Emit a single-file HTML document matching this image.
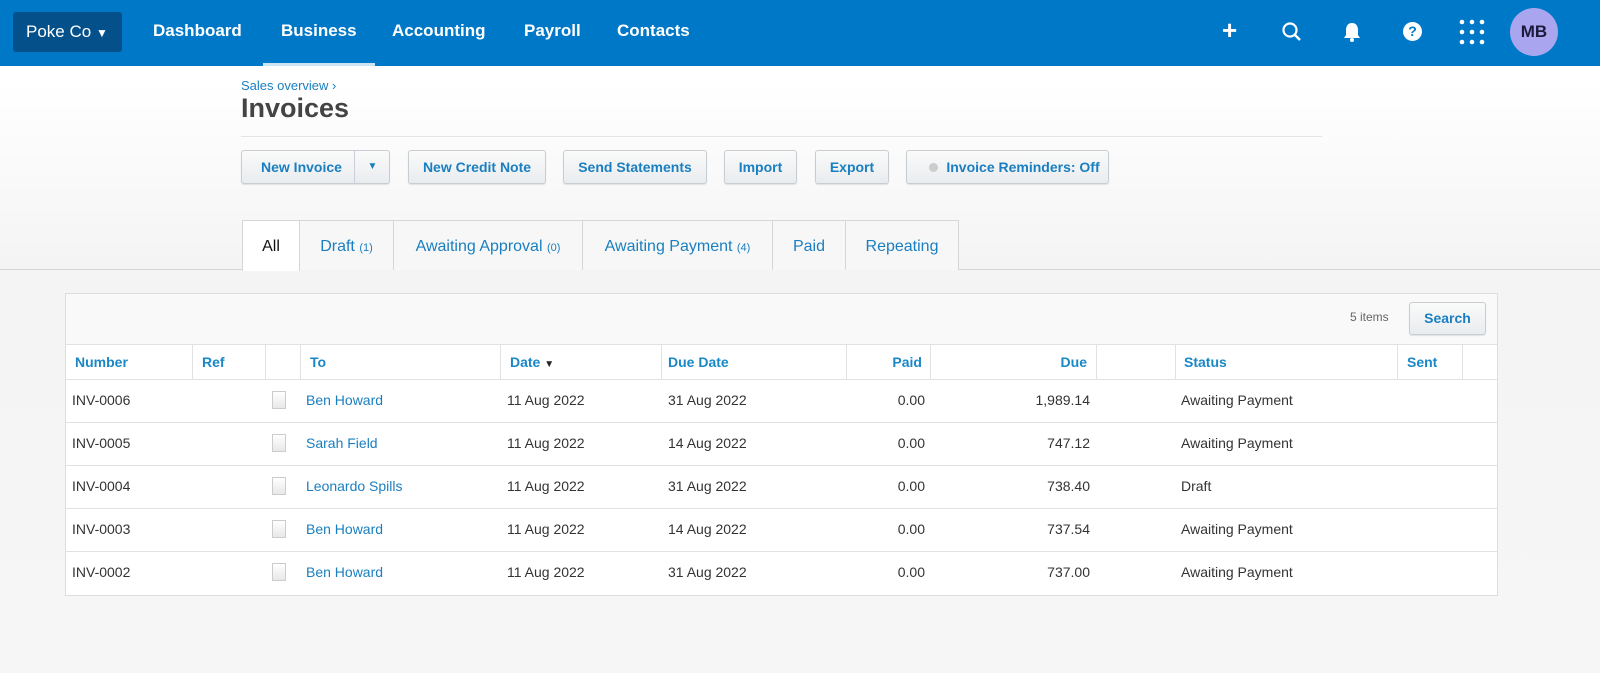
<!DOCTYPE html>
<html><head><meta charset="utf-8"><style>
*{margin:0;padding:0;box-sizing:border-box}
body{width:1600px;height:673px;overflow:hidden;font-family:"Liberation Sans",Arial,sans-serif;background:linear-gradient(#fff 0,#fff 80px,#f4f4f4 269px,#f6f6f6 100%);position:relative}
.a{position:absolute;white-space:nowrap}
.top{position:absolute;left:0;top:0;width:1600px;height:66px;background:#0078c8}
.nav{color:#fff;font-weight:bold;font-size:17px;top:21px}
.btn{position:absolute;top:150px;height:34px;border:1px solid #c8cdd2;border-radius:3px;background:linear-gradient(#fafafa,#e9ecef);color:#1a7fc0;font-weight:bold;font-size:14px;line-height:32px;text-align:center;box-shadow:0 1px 1px rgba(0,0,0,.1)}
.tab{position:absolute;top:220px;height:50px;border:1px solid #d6d6d6;border-bottom:none;background:#f7f7f7;color:#1a7fc0;font-size:16px;line-height:52px;text-align:center}
.tab small{font-size:11px}
.h{color:#1a87c7;font-weight:bold;font-size:14px;top:354px}
.c{font-size:14px;color:#333}
.l{color:#1a7fc0}
.vl{position:absolute;top:344px;height:35px;width:1px;background:#e2e2e2}
.hl{position:absolute;left:66px;width:1431px;height:1px;background:#e2e2e2}
.doc{position:absolute;width:14px;height:18px;border:1px solid #ccc;background:linear-gradient(#fff,#e8e8e8)}
</style></head><body>
<div class="top"></div>
<div class="a" style="left:13px;top:12px;width:109px;height:40px;background:#04508a;border-radius:3px;color:#fff;font-size:17px;line-height:40px;padding-left:13px">Poke Co <span style="font-size:12px">▼</span></div>
<div class="a nav" style="left:153px">Dashboard</div>
<div class="a nav" style="left:281px">Business</div>
<div class="a nav" style="left:392px">Accounting</div>
<div class="a nav" style="left:524px">Payroll</div>
<div class="a nav" style="left:617px">Contacts</div>
<div class="a" style="left:263px;top:63px;width:112px;height:3px;background:#cfe3f3"></div>
<div class="a" style="left:1222px;top:15px;color:#fff;font-size:26px;font-weight:bold">+</div>
<svg class="a" style="left:1281px;top:21px" width="22" height="22"><circle cx="9" cy="9" r="6.5" fill="none" stroke="#fff" stroke-width="2.2"/><line x1="14" y1="14" x2="19" y2="19" stroke="#fff" stroke-width="2.4"/></svg>
<svg class="a" style="left:1342px;top:21px" width="20" height="22"><path d="M10 2c-4 0-6 3-6 7v5l-2 3h16l-2-3V9c0-4-2-7-6-7z" fill="#fff"/><circle cx="10" cy="19" r="2" fill="#fff"/></svg>
<div class="a" style="left:1403px;top:22px;width:19px;height:19px;border-radius:50%;background:#fff;color:#0078c8;font-weight:bold;font-size:14px;text-align:center;line-height:19px">?</div>
<svg class="a" style="left:1459px;top:19px" width="26" height="26"><g fill="#fff"><circle cx="3" cy="3" r="2.3"/><circle cx="13" cy="3" r="2.3"/><circle cx="23" cy="3" r="2.3"/><circle cx="3" cy="13" r="2.3"/><circle cx="13" cy="13" r="2.3"/><circle cx="23" cy="13" r="2.3"/><circle cx="3" cy="23" r="2.3"/><circle cx="13" cy="23" r="2.3"/><circle cx="23" cy="23" r="2.3"/></g></svg>
<div class="a" style="left:1510px;top:8px;width:48px;height:48px;border-radius:50%;background:#a9a6ef;color:#1a1a3a;font-weight:bold;font-size:17px;text-align:center;line-height:48px">MB</div>

<div class="a l" style="left:241px;top:78px;font-size:13px">Sales overview ›</div>
<div class="a" style="left:241px;top:93px;font-size:27px;font-weight:bold;color:#444">Invoices</div>
<div class="a" style="left:241px;top:136px;width:1081px;height:1px;background:#e4e4e4"></div>

<div class="btn" style="left:241px;width:149px;text-align:left;padding-left:19px">New Invoice<span style="position:absolute;left:112px;top:0;height:32px;border-left:1px solid #ccd;width:36px;text-align:center;font-size:10px">▼</span></div>
<div class="btn" style="left:408px;width:138px">New Credit Note</div>
<div class="btn" style="left:563px;width:144px">Send Statements</div>
<div class="btn" style="left:724px;width:73px">Import</div>
<div class="btn" style="left:815px;width:74px">Export</div>
<div class="btn" style="left:906px;width:203px;padding-left:14px"><span style="display:inline-block;width:9px;height:9px;border-radius:50%;background:#ccc;margin-right:8px"></span>Invoice Reminders: Off</div>

<div class="a" style="left:0;top:269px;width:1600px;height:1px;background:#d6d6d6"></div>
<div class="tab" style="left:242px;width:58px;background:#fff;color:#111;height:51px">All</div>
<div class="tab" style="left:299px;width:95px">Draft <small>(1)</small></div>
<div class="tab" style="left:393px;width:190px">Awaiting Approval <small>(0)</small></div>
<div class="tab" style="left:582px;width:191px">Awaiting Payment <small>(4)</small></div>
<div class="tab" style="left:772px;width:74px">Paid</div>
<div class="tab" style="left:845px;width:114px">Repeating</div>

<div class="a" style="left:65px;top:293px;width:1433px;height:303px;border:1px solid #ddd;background:#fff"></div>
<div class="a" style="left:66px;top:294px;width:1431px;height:50px;background:#f9f9f9"></div>
<div class="a" style="left:1350px;top:310px;font-size:12px;color:#666">5 items</div>
<div class="btn" style="left:1409px;top:302px;width:77px;height:33px;line-height:31px">Search</div>
<div class="hl" style="top:344px"></div>
<div class="hl" style="top:379px"></div>
<div class="hl" style="top:422px"></div>
<div class="hl" style="top:465px"></div>
<div class="hl" style="top:508px"></div>
<div class="hl" style="top:551px"></div>
<div class="vl" style="left:192px"></div><div class="vl" style="left:265px"></div><div class="vl" style="left:300px"></div><div class="vl" style="left:500px"></div><div class="vl" style="left:661px"></div><div class="vl" style="left:846px"></div><div class="vl" style="left:930px"></div><div class="vl" style="left:1096px"></div><div class="vl" style="left:1175px"></div><div class="vl" style="left:1397px"></div><div class="vl" style="left:1462px"></div>
<div class="a h" style="left:75px">Number</div>
<div class="a h" style="left:202px">Ref</div>
<div class="a h" style="left:310px">To</div>
<div class="a h" style="left:510px">Date <span style="color:#222;font-size:10px">▼</span></div>
<div class="a h" style="left:668px">Due Date</div>
<div class="a h" style="right:678px">Paid</div>
<div class="a h" style="right:513px">Due</div>
<div class="a h" style="left:1184px">Status</div>
<div class="a h" style="left:1407px">Sent</div>

<div style="position:absolute;left:0;top:392px;width:1600px">
<div style="position:relative;height:43px">
<div class="a c" style="left:72px">INV-0006</div><div class="doc" style="left:272px;top:-1px"></div><div class="a c l" style="left:306px">Ben Howard</div><div class="a c" style="left:507px">11 Aug 2022</div><div class="a c" style="left:668px">31 Aug 2022</div><div class="a c" style="right:675px">0.00</div><div class="a c" style="right:510px">1,989.14</div><div class="a c" style="left:1181px">Awaiting Payment</div></div>
<div style="position:relative;height:43px">
<div class="a c" style="left:72px">INV-0005</div><div class="doc" style="left:272px;top:-1px"></div><div class="a c l" style="left:306px">Sarah Field</div><div class="a c" style="left:507px">11 Aug 2022</div><div class="a c" style="left:668px">14 Aug 2022</div><div class="a c" style="right:675px">0.00</div><div class="a c" style="right:510px">747.12</div><div class="a c" style="left:1181px">Awaiting Payment</div></div>
<div style="position:relative;height:43px">
<div class="a c" style="left:72px">INV-0004</div><div class="doc" style="left:272px;top:-1px"></div><div class="a c l" style="left:306px">Leonardo Spills</div><div class="a c" style="left:507px">11 Aug 2022</div><div class="a c" style="left:668px">31 Aug 2022</div><div class="a c" style="right:675px">0.00</div><div class="a c" style="right:510px">738.40</div><div class="a c" style="left:1181px">Draft</div></div>
<div style="position:relative;height:43px">
<div class="a c" style="left:72px">INV-0003</div><div class="doc" style="left:272px;top:-1px"></div><div class="a c l" style="left:306px">Ben Howard</div><div class="a c" style="left:507px">11 Aug 2022</div><div class="a c" style="left:668px">14 Aug 2022</div><div class="a c" style="right:675px">0.00</div><div class="a c" style="right:510px">737.54</div><div class="a c" style="left:1181px">Awaiting Payment</div></div>
<div style="position:relative;height:43px">
<div class="a c" style="left:72px">INV-0002</div><div class="doc" style="left:272px;top:-1px"></div><div class="a c l" style="left:306px">Ben Howard</div><div class="a c" style="left:507px">11 Aug 2022</div><div class="a c" style="left:668px">31 Aug 2022</div><div class="a c" style="right:675px">0.00</div><div class="a c" style="right:510px">737.00</div><div class="a c" style="left:1181px">Awaiting Payment</div></div>
</div>
</body></html>
